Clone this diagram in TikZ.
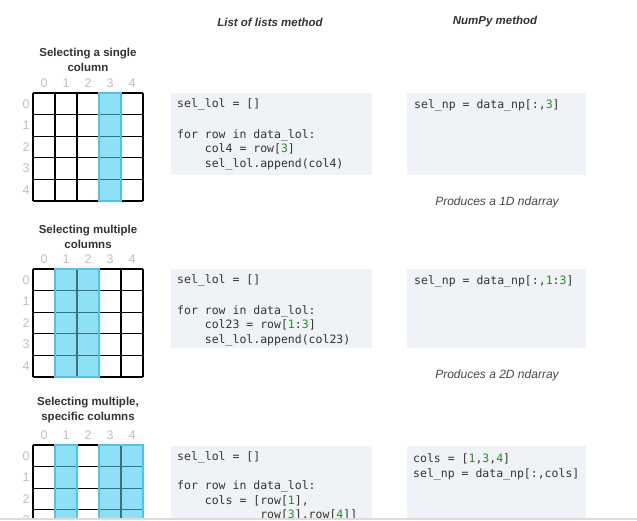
\documentclass[tikz,border=0pt]{standalone}
\usepackage{fontspec}
\setmainfont{Liberation Sans}
\newfontfamily\codefont{DejaVu Sans Mono}
\definecolor{hlfillc}{RGB}{141,224,246}
\definecolor{hlborderc}{RGB}{79,195,240}
\definecolor{innerc}{RGB}{61,111,125}
\definecolor{boxfillc}{RGB}{239,242,247}
\definecolor{codegray}{RGB}{51,51,51}
\definecolor{numgreen}{RGB}{40,140,40}
\definecolor{titlegray}{RGB}{50,50,50}
\definecolor{notegray}{RGB}{70,70,70}
\definecolor{idxgray}{RGB}{190,190,190}
\definecolor{bargray}{RGB}{220,220,220}
\newcommand{\gn}[1]{\textcolor{numgreen}{#1}}
\newcommand{\selgrid}[3]{%
  \foreach \a/\b in {#2}{%
    \pgfmathsetmacro\xa{33+\a*22}\pgfmathsetmacro\xb{33+(\b+1)*22}%
    \fill[hlfillc] (\xa,#1) rectangle (\xb,{#1+108});
  }
  \foreach \i in {0,...,5} \draw[gridline] ({33+\i*22},#1) -- ({33+\i*22},{#1+108});
  \foreach \j in {0,...,5} \draw[gridline] (33,{#1+\j*21.6}) -- (143,{#1+\j*21.6});
  \foreach \a/\b in {#2}{%
    \pgfmathsetmacro\xa{33+\a*22}\pgfmathsetmacro\xb{33+(\b+1)*22}%
    \pgfmathtruncatemacro\bb{\b+1}%
    \foreach \j in {1,...,4} \draw[innerline] (\xa,{#1+\j*21.6}) -- (\xb,{#1+\j*21.6});
    \foreach \k in {\a,...,\bb} \draw[innerline] ({33+\k*22},#1) -- ({33+\k*22},{#1+108});
    \draw[hlborder] (\xa,#1) rectangle (\xb,{#1+108});
  }
  \foreach \i in {0,...,4} \node[idx] (#3c\i) at ({44+\i*22},{#1-10}) {\i};
  \foreach \j in {0,...,4} \node[idx] (#3r\j) at (26,{#1+10.8+\j*21.6}) {\j};
}
\begin{document}
\begin{tikzpicture}[x=1pt,y=-1pt,
  gridline/.style={black,line width=1.1pt},
  innerline/.style={innerc,line width=1.1pt},
  hlborder/.style={hlborderc,line width=1.8pt},
  title/.style={font=\bfseries\fontsize{11.5}{15}\selectfont,text=titlegray,align=center,inner sep=0},
  head/.style={font=\bfseries\itshape\fontsize{11.5}{14}\selectfont,text=titlegray,inner sep=0},
  note/.style={font=\itshape\fontsize{12}{14}\selectfont,text=notegray,inner sep=0},
  idx/.style={font=\fontsize{12.5}{14}\selectfont,text=idxgray,inner sep=0},
  code/.style={font=\codefont\fontsize{11.5}{14}\selectfont,text=codegray,anchor=base west,inner sep=0},
  codebox/.style={fill=boxfillc}]
\useasboundingbox (0,0) rectangle (637,520);
\begin{scope}
\clip (0,0) rectangle (637,517.5);
% headings
\node[head] (h1) at (270,22) {List of lists method};
\node[head] (h2) at (495,22) {NumPy method};
% titles
\node[title] (t1) at (88,59.5) {Selecting a single\\column};
\node[title] (t2) at (88,236.5) {Selecting multiple\\columns};
\node[title] (t3) at (88,410.5) {Selecting multiple,\\specific columns};
% grids
\selgrid{93}{3/3}{ga}
\selgrid{269}{1/2}{gb}
\selgrid{445}{1/1,3/4}{gc}
% code boxes
\fill[codebox] (171,93) rectangle (372,175);
\fill[codebox] (407,93) rectangle (586,175);
\fill[codebox] (171,269) rectangle (372,348);
\fill[codebox] (407,269) rectangle (586,348);
\fill[codebox] (171,446) rectangle (372,530);
\fill[codebox] (407,446) rectangle (586,530);
% box 1
\node[code] (a1) at (177,107) {sel\_lol = []};
\node[code] (a2) at (177,138) {for row in data\_lol:};
\node[code] (a3) at (177,152) {\phantom{xxxx}col4 = row[\gn{3}]};
\node[code] (a4) at (177,167) {\phantom{xxxx}sel\_lol.append(col4)};
% box 2
\node[code] (b1) at (414,108) {sel\_np = data\_np[:,\gn{3}]};
\node[note] (n1) at (497,202) {Produces a 1D ndarray};
% box 3
\node[code] (c1) at (177,283) {sel\_lol = []};
\node[code] (c2) at (177,314) {for row in data\_lol:};
\node[code] (c3) at (177,328) {\phantom{xxxx}col23 = row[\gn{1}:\gn{3}]};
\node[code] (c4) at (177,343) {\phantom{xxxx}sel\_lol.append(col23)};
% box 4
\node[code] (d1) at (414,284) {sel\_np = data\_np[:,\gn{1}:\gn{3}]};
\node[note] (n2) at (497,375) {Produces a 2D ndarray};
% box 5
\node[code] (e1) at (177,460) {sel\_lol = []};
\node[code] (e2) at (177,489) {for row in data\_lol:};
\node[code] (e3) at (177,504) {\phantom{xxxx}cols = [row[\gn{1}],};
\node[code] (e4) at (177,518) {\phantom{xxxxxxxxxxxx}row[\gn{3}],row[\gn{4}]]};
% box 6
\node[code] (f1) at (413,462) {cols = [\gn{1},\gn{3},\gn{4}]};
\node[code] (f2) at (413,477) {sel\_np = data\_np[:,cols]};
\end{scope}
\fill[bargray] (0,517.5) rectangle (637,520);
\end{tikzpicture}
\end{document}
